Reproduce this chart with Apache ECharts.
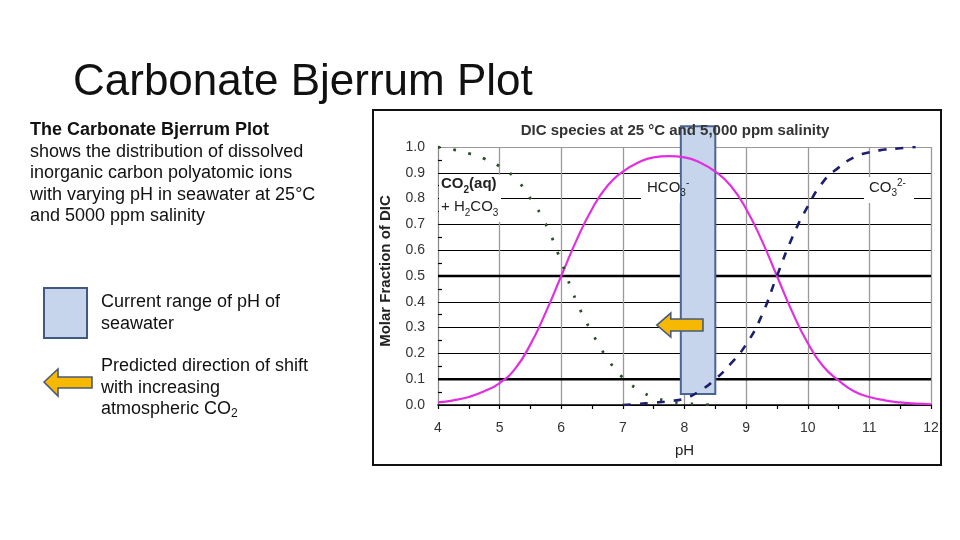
<!DOCTYPE html>
<html>
<head>
<meta charset="utf-8">
<script src="https://cdn.jsdelivr.net/npm/echarts@6/dist/echarts.min.js"></script>
<style>
  html, body { margin: 0; padding: 0; background: #ffffff; }
  #chart { width: 960px; height: 540px; }
</style>
</head>
<body>
<div id="chart"></div>
<script>
// ---- data ----
const phValues = [4, 4.25, 4.5, 4.75, 5, 5.25, 5.5, 5.75, 6, 6.25, 6.5, 6.75, 7, 7.25, 7.5, 7.75, 8,
                  8.25, 8.5, 8.75, 9, 9.25, 9.5, 9.75, 10, 10.25, 10.5, 10.75, 11, 11.25, 11.5, 11.75, 12];
const co2Fraction = [1.00, 0.99, 0.975, 0.955, 0.925, 0.88, 0.80, 0.70, 0.555, 0.40, 0.28, 0.18, 0.105, 0.06,
                     0.03, 0.015, 0.006, 0.003, 0.0, null, null, null, null, null, null, null, null, null,
                     null, null, null, null, null];
const hco3Fraction = [0.01, 0.018, 0.031, 0.053, 0.085, 0.14, 0.235, 0.36, 0.50, 0.64, 0.76, 0.85, 0.905, 0.94,
                      0.96, 0.965, 0.96, 0.94, 0.905, 0.85, 0.76, 0.64, 0.50, 0.36, 0.24, 0.15, 0.095, 0.053,
                      0.031, 0.018, 0.01, 0.005, 0.003];
const co3Fraction = [null, null, null, null, null, null, null, null, null, null, null, null, 0.0, 0.004,
                     0.009, 0.015, 0.025, 0.055, 0.10, 0.16, 0.235, 0.345, 0.50, 0.65, 0.77, 0.865, 0.92,
                     0.96, 0.98, 0.99, 0.995, 1.0, null];
const xTicks = [4, 5, 6, 7, 8, 9, 10, 11, 12];
const thickGridValues = [0.1, 0.5];
const seawaterPhRange = [7.94, 8.5];
const seawaterBoxSpan = [0.043, 1.08];
const shiftArrowPh = [7.55, 8.30];
const shiftArrowLevel = 0.31;

const FONT = "'Liberation Sans', Arial, Helvetica, sans-serif";
const zip = arr => phValues.map((p, i) => [p, arr[i]]);

const chart = echarts.init(document.getElementById('chart'), null, { renderer: 'canvas' });

const ySplitColors = [];
for (let i = 0; i < 10; i++) ySplitColors.push('#000000');
ySplitColors.push('#9a9a9a');

const option = {
  backgroundColor: '#ffffff',
  animation: false,
  textStyle: { fontFamily: FONT },
  title: [
    {
      text: 'Carbonate Bjerrum Plot',
      left: 68, top: 56,
      textStyle: { fontSize: 44, fontWeight: 'normal', color: '#111111', fontFamily: FONT }
    },
    {
      text: 'DIC species at 25 °C and 5,000 ppm salinity',
      left: 670, top: 118, textAlign: 'center',
      textStyle: { fontSize: 15, fontWeight: 'bold', color: '#333333', fontFamily: FONT }
    }
  ],
  grid: { left: 438, right: 29, top: 147, bottom: 135, outerBoundsMode: 'none', containLabel: false },
  xAxis: {
    type: 'value', min: 4, max: 12, interval: 1,
    name: 'pH', nameLocation: 'middle', nameGap: 38,
    nameTextStyle: { fontSize: 15, color: '#222222', fontFamily: FONT },
    axisLine: { show: true, onZero: false, lineStyle: { color: '#000000', width: 1.6 } },
    axisTick: { show: true, length: 4, lineStyle: { color: '#000000', width: 1.2 } },
    minorTick: { show: true, splitNumber: 2, length: 4, lineStyle: { color: '#000000', width: 1.2 } },
    axisLabel: { margin: 16, fontSize: 14, color: '#333333', fontFamily: FONT,
                 customValues: xTicks },
    splitLine: { show: true, showMinLine: true, showMaxLine: true, lineStyle: { color: '#9a9a9a', width: 1.3 } }
  },
  yAxis: {
    type: 'value', min: 0, max: 1, interval: 0.1,
    name: 'Molar Fraction of DIC', nameLocation: 'middle', nameGap: 45, nameRotate: 90,
    nameTextStyle: { fontSize: 15, fontWeight: 'bold', color: '#222222', fontFamily: FONT, padding: [0, 0, 0, 10] },
    axisLine: { show: true, lineStyle: { color: '#8a8a8a', width: 1 } },
    axisTick: { show: true, inside: true, length: 3, lineStyle: { color: '#000000' } },
    minorTick: { show: true, splitNumber: 2, length: 4, lineStyle: { color: '#000000', width: 1.2 } },
    axisLabel: { margin: 13, fontSize: 14, color: '#333333', fontFamily: FONT,
                 formatter: v => v.toFixed(1) },
    splitLine: { show: true, showMinLine: true, showMaxLine: true, lineStyle: { color: ySplitColors, width: 1.2 } }
  },
  series: [
    {
      name: 'thick grid', type: 'custom', z: 1, silent: true,
      data: thickGridValues.map(v => [v]),
      encode: { y: 0 },
      renderItem: (params, api) => {
        const a = api.coord([4, api.value(0)]);
        const b = api.coord([12, api.value(0)]);
        return { type: 'line', shape: { x1: a[0], y1: a[1], x2: b[0], y2: b[1] },
                 style: { stroke: '#000000', lineWidth: 2.4 } };
      }
    },
    {
      name: 'seawater range', type: 'custom', z: 2, clip: false, silent: true,
      data: [[seawaterPhRange[0], seawaterPhRange[1], seawaterBoxSpan[0], seawaterBoxSpan[1]]],
      encode: { x: [0, 1], y: [2, 3] },
      renderItem: (params, api) => {
        const tl = api.coord([api.value(0), api.value(3)]);
        const br = api.coord([api.value(1), api.value(2)]);
        return { type: 'rect',
                 shape: { x: tl[0], y: tl[1], width: br[0] - tl[0], height: br[1] - tl[1] },
                 style: { fill: '#c6d4ec', stroke: '#4a6592', lineWidth: 2 } };
      }
    },
    {
      name: 'HCO3-', type: 'line', z: 3, smooth: true, showSymbol: false,
      data: zip(hco3Fraction),
      lineStyle: { color: '#e030e0', width: 2.2 }
    },
    {
      name: 'CO2(aq) + H2CO3', type: 'line', z: 3, smooth: true, showSymbol: false,
      data: zip(co2Fraction),
      lineStyle: { color: '#2a4f2a', width: 2.8, type: [2.5, 13] }
    },
    {
      name: 'CO3 2-', type: 'line', z: 3, smooth: true, showSymbol: false,
      data: zip(co3Fraction),
      lineStyle: { color: '#1c1f6b', width: 2.6, type: [8, 9] }
    },
    {
      name: 'shift arrow', type: 'custom', z: 4, clip: false, silent: true,
      data: [[shiftArrowPh[0], shiftArrowPh[1], shiftArrowLevel]],
      encode: { x: [0, 1], y: 2 },
      renderItem: (params, api) => {
        const tip = api.coord([api.value(0), api.value(2)]);
        const tail = api.coord([api.value(1), api.value(2)]);
        const hl = 14, hh = 12, bh = 6;
        return { type: 'polygon',
                 shape: { points: [
                   [tip[0], tip[1]],
                   [tip[0] + hl, tip[1] - hh],
                   [tip[0] + hl, tip[1] - bh],
                   [tail[0], tail[1] - bh],
                   [tail[0], tail[1] + bh],
                   [tip[0] + hl, tip[1] + bh],
                   [tip[0] + hl, tip[1] + hh]
                 ] },
                 style: { fill: '#f6b800', stroke: '#4b5a77', lineWidth: 1.6 } };
      }
    }
  ],
  graphic: [
    // chart frame
    { type: 'rect', z: 0, silent: true,
      shape: { x: 373, y: 110, width: 568, height: 355 },
      style: { fill: 'rgba(0,0,0,0)', stroke: '#111111', lineWidth: 2 } },
    // in-plot species labels with white backing
    { type: 'rect', z: 5, silent: true, shape: { x: 439, y: 175, width: 62, height: 47 }, style: { fill: '#ffffff' } },
    { type: 'text', z: 6, left: 441, top: 176, silent: true,
      style: { text: '{b|CO}{bs|2}{b|(aq)}\n{n|+ H}{s|2}{n|CO}{s|3}', fill: '#222222', fontFamily: FONT,
               rich: {
                 b: { fontSize: 15, fontWeight: 'bold', lineHeight: 23, fontFamily: FONT, fill: '#222222' },
                 bs: { fontSize: 10, fontWeight: 'bold', lineHeight: 14, verticalAlign: 'bottom', fontFamily: FONT, fill: '#222222' },
                 n: { fontSize: 15, lineHeight: 23, fontFamily: FONT, fill: '#222222' },
                 s: { fontSize: 10, lineHeight: 14, verticalAlign: 'bottom', fontFamily: FONT, fill: '#222222' }
               } } },
    { type: 'rect', z: 5, silent: true, shape: { x: 641, y: 177, width: 39, height: 26 }, style: { fill: '#ffffff' } },
    { type: 'text', z: 6, left: 647, top: 178, silent: true,
      style: { text: '{n|HCO}{s|3}{p|-}', fontFamily: FONT,
               rich: {
                 n: { fontSize: 15, lineHeight: 20, fontFamily: FONT, fill: '#222222' },
                 s: { fontSize: 10, lineHeight: 12, verticalAlign: 'bottom', fontFamily: FONT, fill: '#222222' },
                 p: { fontSize: 10, lineHeight: 12, verticalAlign: 'top', fontFamily: FONT, fill: '#222222' }
               } } },
    { type: 'rect', z: 5, silent: true, shape: { x: 864, y: 177, width: 50, height: 26 }, style: { fill: '#ffffff' } },
    { type: 'text', z: 6, left: 869, top: 178, silent: true,
      style: { text: '{n|CO}{s|3}{p|2-}', fontFamily: FONT,
               rich: {
                 n: { fontSize: 15, lineHeight: 20, fontFamily: FONT, fill: '#222222' },
                 s: { fontSize: 10, lineHeight: 12, verticalAlign: 'bottom', fontFamily: FONT, fill: '#222222' },
                 p: { fontSize: 10, lineHeight: 12, verticalAlign: 'top', fontFamily: FONT, fill: '#222222' }
               } } },
    // left description
    { type: 'text', left: 30, top: 121, silent: true,
      style: { text: '{b|The Carbonate Bjerrum Plot}\n{n|shows the distribution of dissolved}\n{n|inorganic carbon polyatomic ions}\n{n|with varying pH in seawater at 25°C}\n{n|and 5000 ppm salinity}',
               fontFamily: FONT,
               rich: {
                 b: { fontSize: 18, fontWeight: 'bold', lineHeight: 21.6, fontFamily: FONT, fill: '#111111' },
                 n: { fontSize: 18, lineHeight: 21.6, fontFamily: FONT, fill: '#111111' }
               } } },
    // legend: blue box
    { type: 'rect', silent: true, shape: { x: 44, y: 288, width: 43, height: 50 },
      style: { fill: '#c6d4ec', stroke: '#41597f', lineWidth: 2 } },
    { type: 'text', left: 101, top: 293, silent: true,
      style: { text: '{n|Current range of pH of}\n{n|seawater}', fontFamily: FONT,
               rich: { n: { fontSize: 18, lineHeight: 21.6, fontFamily: FONT, fill: '#111111' } } } },
    // legend: yellow arrow
    { type: 'polygon', silent: true,
      shape: { points: [[44, 382], [58, 369], [58, 377], [92, 377], [92, 388], [58, 388], [58, 396]] },
      style: { fill: '#f6b800', stroke: '#4b5a77', lineWidth: 1.6 } },
    { type: 'text', left: 101, top: 357, silent: true,
      style: { text: '{n|Predicted direction of shift}\n{n|with increasing}\n{n|atmospheric CO}{s|2}', fontFamily: FONT,
               rich: {
                 n: { fontSize: 18, lineHeight: 21.6, fontFamily: FONT, fill: '#111111' },
                 s: { fontSize: 12, lineHeight: 15, verticalAlign: 'bottom', fontFamily: FONT, fill: '#111111' }
               } } }
  ]
};

chart.setOption(option);
</script>
</body>
</html>
